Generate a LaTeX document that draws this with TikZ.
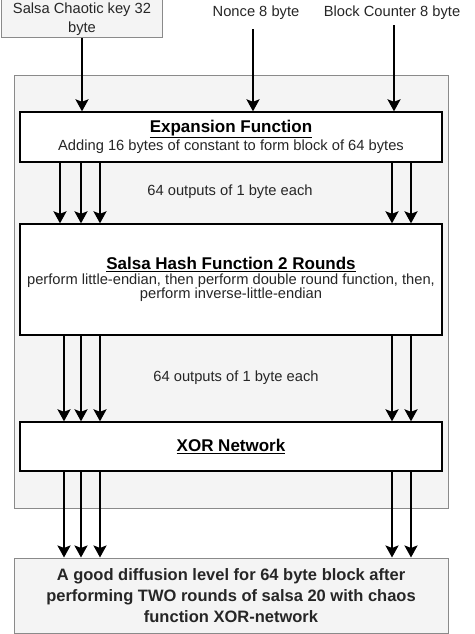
\documentclass[tikz,border=0pt]{standalone}
\usepackage{fontspec}
\setmainfont{Liberation Sans}
\usetikzlibrary{arrows.meta,calc}
\definecolor{lightbg}{HTML}{F4F4F4}
\definecolor{grayline}{HTML}{8A8A8A}
\definecolor{txt}{HTML}{262626}
\newcommand{\ttlfont}{\fontsize{17}{19}\selectfont\bfseries\color{black}}
\newcommand{\bdyfont}{\fontsize{14.7}{18}\selectfont\mdseries\color{txt}}
\begin{document}
\begin{tikzpicture}[x=1pt,y=-1pt,
  graybox/.style={draw=grayline,fill=lightbg,line width=1pt,inner sep=0pt},
  whitebox/.style={draw=black,fill=white,line width=1.3pt,inner sep=0pt,align=center},
  arr/.style={line width=2.2pt,-{Stealth[width=13pt,length=12pt,inset=2.5pt]}},
  bodyfont/.style={font=\fontsize{14.7}{18.5}\selectfont,text=txt},
]
\useasboundingbox (0,0) rectangle (474,634);
% outer container
\node[graybox,minimum width=434pt,minimum height=433pt] (outer) at (231,291.5) {};
% inputs
\node[graybox,minimum width=161pt,minimum height=38pt,bodyfont,align=center] (key) at (82,19)
  {Salsa Chaotic key 32\\byte};
\node[bodyfont,inner sep=0pt] (nonce) at (256,13) {Nonce 8 byte};
\node[bodyfont,inner sep=0pt] (block) at (392,13) {Block Counter 8 byte};
% main boxes
\node[whitebox,minimum width=422pt,minimum height=50pt] (exp) at (231,137)
  {\ttlfont\underline{Expansion Function}\\[1pt]
   \bdyfont Adding 16 bytes of constant to form block of 64 bytes};
\node[whitebox,minimum width=422pt,minimum height=111pt] (salsa) at (231,279.5)
  {\ttlfont\underline{Salsa Hash Function 2 Rounds}\\[1pt]
   \bdyfont perform little-endian, then perform double round function, then,\\
   \bdyfont perform inverse-little-endian};
\node[whitebox,minimum width=422pt,minimum height=49pt] (xor) at (231,446.5)
  {\ttlfont\underline{XOR Network}};
\node[graybox,minimum width=434pt,minimum height=75pt,align=center,
      font=\fontsize{16.5}{20.7}\selectfont\bfseries,text=txt] (final) at (231,595.5)
  {A good diffusion level for 64 byte block after\\performing TWO rounds of salsa 20 with chaos\\function XOR-network};
% labels between boxes
\node[bodyfont,inner sep=0pt] (lab1) at (230,192) {64 outputs of 1 byte each};
\node[bodyfont,inner sep=0pt] (lab2) at (236,378) {64 outputs of 1 byte each};
% column coordinates
\coordinate (a1) at (60,0);
\coordinate (b1) at (64,0);
\coordinate (c2) at (81,0);
\coordinate (c3) at (100,0);
\coordinate (c4) at (392,0);
\coordinate (c5) at (411,0);
\coordinate (kx) at (82,0);
\coordinate (nx) at (253,0);
\coordinate (bx) at (394,0);
% input arrows
\draw[arr] (key.south -| kx) -- (exp.north -| kx);
\draw[arr,shorten <=9pt] (nonce.south -| nx) -- (exp.north -| nx);
\draw[arr,shorten <=5pt] (block.south -| bx) -- (exp.north -| bx);
% expansion -> salsa
\foreach \c in {a1,c2,c3,c4,c5}
  \draw[arr] (exp.south -| \c) -- (salsa.north -| \c);
% salsa -> xor
\foreach \c in {b1,c2,c3,c4,c5}
  \draw[arr] (salsa.south -| \c) -- (xor.north -| \c);
% xor -> final
\foreach \c in {b1,c2,c3,c4,c5}
  \draw[arr] (xor.south -| \c) -- (final.north -| \c);
\end{tikzpicture}
\end{document}
